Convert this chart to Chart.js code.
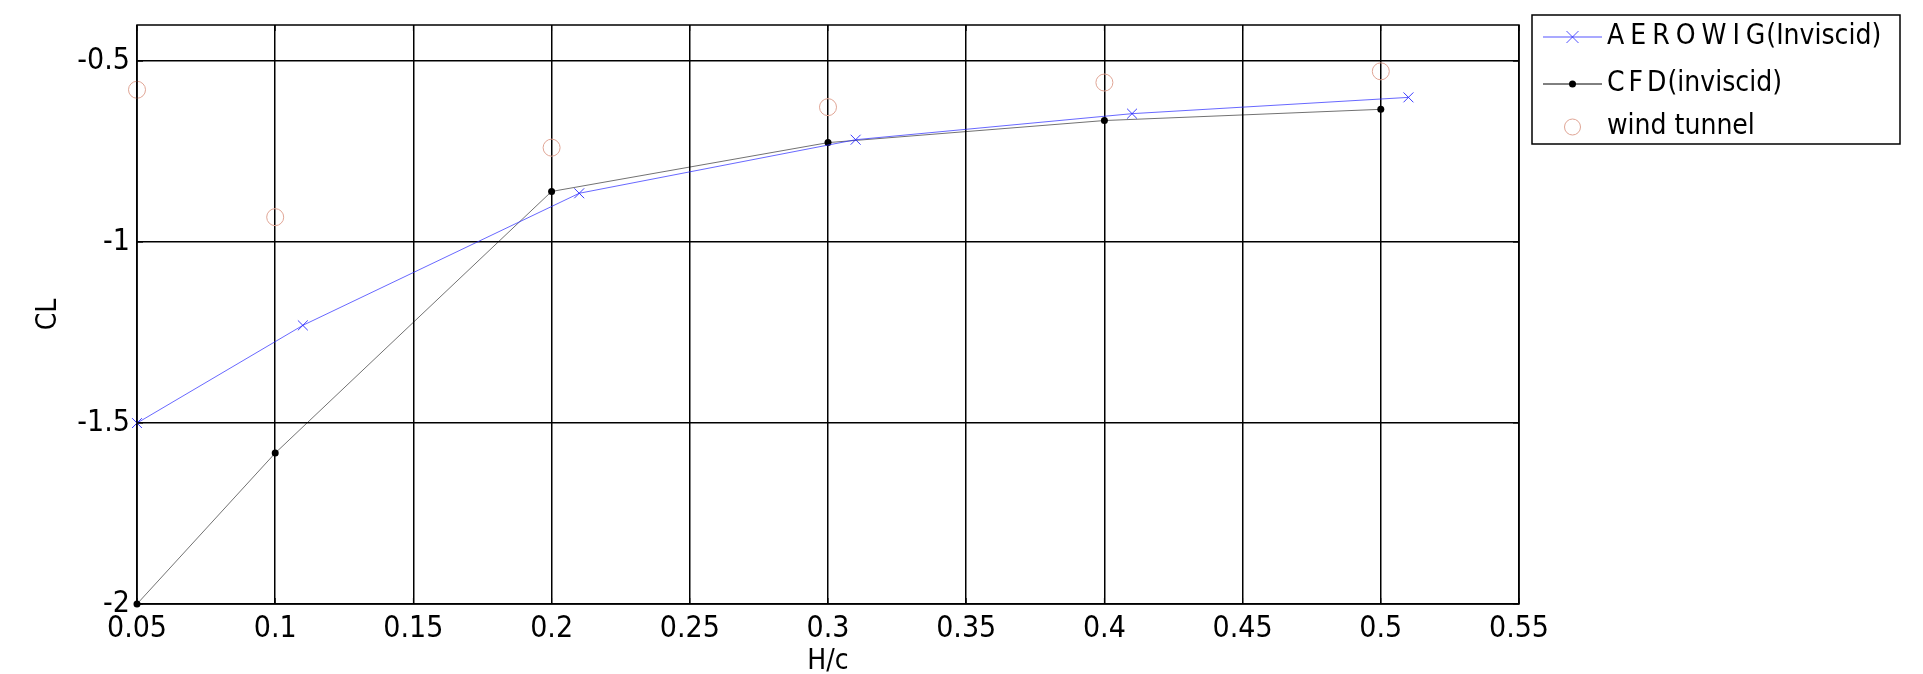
<!DOCTYPE html>
<html lang="en">
<head>
    <meta charset="UTF-8">
    <title>CL vs H/c</title>
    <script src="https://cdn.jsdelivr.net/npm/chart.js"></script>
    <style>
        html, body { margin: 0; padding: 0; background: #fff; }
        .chart-container { width: 1923px; height: 674px; position: relative; }
    </style>
</head>
<body>
    <div class="chart-container">
        <canvas id="clChart"></canvas>
    </div>
    <script>
        // values
        const aerowigX = [0.05, 0.11, 0.21, 0.31, 0.41, 0.51];
        const aerowigCL = [-1.50, -1.23, -0.865, -0.717, -0.645, -0.60];
        const cfdX = [0.05, 0.10, 0.20, 0.30, 0.40, 0.50];
        const cfdCL = [-2.00, -1.583, -0.86, -0.725, -0.664, -0.633];
        const tunnelX = [0.05, 0.10, 0.20, 0.30, 0.40, 0.50];
        const tunnelCL = [-0.579, -0.931, -0.739, -0.627, -0.559, -0.528];
        const xTicks = [0.05, 0.1, 0.15, 0.2, 0.25, 0.3, 0.35, 0.4, 0.45, 0.5, 0.55];
        const yTicks = [-2, -1.5, -1, -0.5];
        const seriesNames = ['AEROWIG(Inviscid)', 'CFD(inviscid)', 'wind tunnel'];

        const FONT = "'DejaVu Sans Condensed', 'DejaVu Sans', sans-serif";
        const toPoints = (xs, ys) => xs.map((x, i) => ({ x: x, y: ys[i] }));

        // box around the axes plus the inward MATLAB style ticks on top/right
        const boxPlugin = {
            id: 'box',
            afterDraw(chart) {
                const { ctx, chartArea: a, scales } = chart;
                ctx.save();
                ctx.strokeStyle = '#000';
                ctx.lineWidth = 1.5;
                ctx.strokeRect(a.left, a.top, a.right - a.left, a.bottom - a.top);
                ctx.lineWidth = 1;
                xTicks.forEach(v => {
                    const px = scales.x.getPixelForValue(v);
                    ctx.beginPath();
                    ctx.moveTo(px, a.top); ctx.lineTo(px, a.top + 6);
                    ctx.moveTo(px, a.bottom); ctx.lineTo(px, a.bottom - 6);
                    ctx.stroke();
                });
                yTicks.forEach(v => {
                    const py = scales.y.getPixelForValue(v);
                    ctx.beginPath();
                    ctx.moveTo(a.left, py); ctx.lineTo(a.left + 6, py);
                    ctx.moveTo(a.right, py); ctx.lineTo(a.right - 6, py);
                    ctx.stroke();
                });
                ctx.restore();
            }
        };

        // draws text where the leading capitals are spread out like the original
        function spacedText(ctx, caps, rest, x, y, spacing) {
            ctx.letterSpacing = spacing + 'px';
            ctx.fillText(caps, x, y);
            const w = ctx.measureText(caps).width - spacing;
            ctx.letterSpacing = '0px';
            ctx.fillText(rest, x + w + 1, y);
        }

        // legend box with line + marker samples
        const legendPlugin = {
            id: 'boxLegend',
            afterDraw(chart) {
                const ctx = chart.ctx;
                const left = 1532, top = 15, right = 1900, bottom = 144;
                ctx.save();
                ctx.fillStyle = '#fff';
                ctx.fillRect(left, top, right - left, bottom - top);
                ctx.strokeStyle = '#000';
                ctx.lineWidth = 1.5;
                ctx.strokeRect(left, top, right - left, bottom - top);

                const rows = [37, 84, 127];
                const x0 = 1543, x1 = 1602, xm = (x0 + x1) / 2;

                // AEROWIG
                ctx.strokeStyle = 'rgba(40,40,255,0.8)';
                ctx.lineWidth = 1;
                ctx.beginPath(); ctx.moveTo(x0, rows[0]); ctx.lineTo(x1, rows[0]); ctx.stroke();
                ctx.beginPath();
                ctx.moveTo(xm - 6, rows[0] - 6); ctx.lineTo(xm + 6, rows[0] + 6);
                ctx.moveTo(xm + 6, rows[0] - 6); ctx.lineTo(xm - 6, rows[0] + 6);
                ctx.stroke();

                // CFD
                ctx.strokeStyle = '#000';
                ctx.beginPath(); ctx.moveTo(x0, rows[1]); ctx.lineTo(x1, rows[1]); ctx.stroke();
                ctx.fillStyle = '#000';
                ctx.beginPath(); ctx.arc(xm, rows[1], 3.5, 0, Math.PI * 2); ctx.fill();

                // wind tunnel
                ctx.strokeStyle = '#e0a595';
                ctx.beginPath(); ctx.arc(xm, rows[2], 8, 0, Math.PI * 2); ctx.stroke();

                ctx.fillStyle = '#000';
                ctx.font = '28px ' + FONT;
                ctx.textBaseline = 'middle';
                ctx.textAlign = 'left';
                spacedText(ctx, 'AEROWIG', '(Inviscid)', 1607, rows[0], 6);
                spacedText(ctx, 'CFD', '(inviscid)', 1607, rows[1], 4);
                ctx.fillText(seriesNames[2], 1607, rows[2]);
                ctx.restore();
            }
        };

        const ctx = document.getElementById('clChart').getContext('2d');
        const chart = new Chart(ctx, {
            type: 'scatter',
            data: {
                datasets: [
                    {
                        label: seriesNames[0],
                        data: toPoints(aerowigX, aerowigCL),
                        showLine: true,
                        borderColor: 'rgba(40,40,255,0.7)',
                        borderWidth: 1,
                        pointStyle: 'crossRot',
                        pointRadius: 7,
                        pointBorderColor: 'rgba(40,40,255,0.9)',
                        pointBorderWidth: 1
                    },
                    {
                        label: seriesNames[1],
                        data: toPoints(cfdX, cfdCL),
                        showLine: true,
                        borderColor: 'rgba(0,0,0,0.7)',
                        borderWidth: 0.8,
                        pointStyle: 'circle',
                        pointRadius: 3.5,
                        pointBackgroundColor: '#000',
                        pointBorderColor: '#000',
                        pointBorderWidth: 0
                    },
                    {
                        label: seriesNames[2],
                        data: toPoints(tunnelX, tunnelCL),
                        showLine: false,
                        pointStyle: 'circle',
                        pointRadius: 8.5,
                        pointBackgroundColor: 'rgba(0,0,0,0)',
                        pointBorderColor: '#e0a595',
                        pointBorderWidth: 1
                    }
                ]
            },
            options: {
                responsive: true,
                maintainAspectRatio: false,
                animation: false,
                clip: false,
                layout: { padding: { top: 14, right: 404, left: 0, bottom: 0 } },
                plugins: {
                    legend: { display: false },
                    tooltip: { enabled: false }
                },
                scales: {
                    x: {
                        type: 'linear',
                        min: 0.05,
                        max: 0.55,
                        afterBuildTicks: s => { s.ticks = xTicks.map(v => ({ value: v })); },
                        afterFit: s => { s.height = 70; },
                        grid: { color: '#000', lineWidth: 1.5, drawTicks: false },
                        border: { display: false },
                        ticks: {
                            color: '#000',
                            font: { family: FONT, size: 30 },
                            padding: 7,
                            maxRotation: 0,
                            autoSkip: false,
                            callback: v => String(v)
                        },
                        title: {
                            display: true,
                            text: 'H/c',
                            color: '#000',
                            font: { family: FONT, size: 28, lineHeight: 0.9 },
                            padding: { top: 0, bottom: 0 }
                        }
                    },
                    y: {
                        type: 'linear',
                        min: -2,
                        max: -0.4,
                        afterBuildTicks: s => { s.ticks = yTicks.map(v => ({ value: v })); },
                        afterFit: s => { s.width = 137; },
                        grid: { color: '#000', lineWidth: 1.5, drawTicks: false },
                        border: { display: false },
                        ticks: {
                            color: '#000',
                            font: { family: FONT, size: 30 },
                            padding: 7,
                            callback: v => String(v)
                        },
                        title: {
                            display: true,
                            text: 'CL',
                            color: '#000',
                            font: { family: FONT, size: 28 },
                            padding: { top: 32, bottom: 0 }
                        }
                    }
                }
            },
            plugins: [boxPlugin, legendPlugin]
        });
    </script>
</body>
</html>
